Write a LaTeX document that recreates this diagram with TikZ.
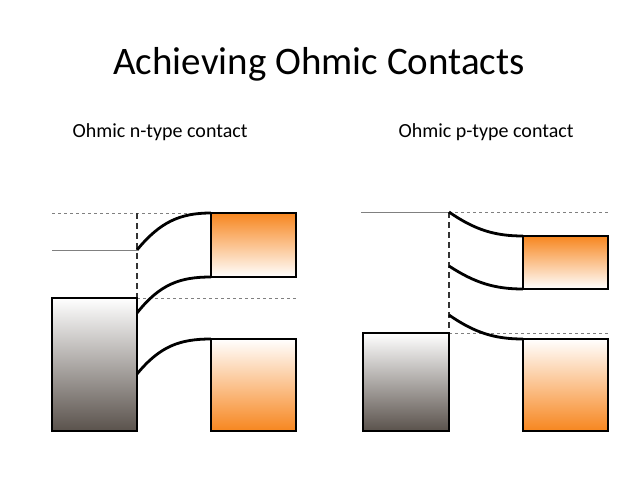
\documentclass[tikz,border=0pt]{standalone}
\usepackage{fontspec}
\setmainfont{Carlito}
\definecolor{org}{HTML}{F7861F}
\definecolor{dk}{HTML}{5A524C}
\begin{document}
\begin{tikzpicture}[x=1pt,y=-1pt,
  band/.style={draw=black,line width=2.8pt},
  orgdown/.style={band,top color=org,bottom color=white},
  orgup/.style={band,top color=white,bottom color=org},
  metal/.style={band,top color=white,bottom color=dk},
  curve/.style={line width=2.8pt},
  ref/.style={gray,dashed,line width=0.8pt},
  vdash/.style={black!80,dash pattern=on 6pt off 4pt,line width=1.8pt},
  lvl/.style={gray,line width=1pt}]
\useasboundingbox (0,0) rectangle (638,479);
\node (title) at (319,64) {\fontsize{39}{44}\selectfont Achieving Ohmic Contacts};
\node[anchor=west] (ln) at (69,132) {\fontsize{20}{24}\selectfont Ohmic n-type contact};
\node[anchor=west] (rn) at (395,132) {\fontsize{20}{24}\selectfont Ohmic p-type contact};
% left
\coordinate (la) at (52,213); \coordinate (lb) at (297,213);
\draw[ref] (la) -- (lb);
\coordinate (lc) at (137,298); \coordinate (ld) at (297,298);
\draw[ref] (lc) -- (ld);
\coordinate (l1) at (137,213); \coordinate (l2) at (137,298);
\draw[vdash] (l1) -- (l2);
\coordinate (lg0) at (52,250); \coordinate (lg1) at (137,250);
\draw[lvl] (lg0) -- (lg1);
\path[orgdown] (211,213) rectangle (296,277);
\path[orgup] (211,339) rectangle (296,431);
\path[metal] (52,298) rectangle (137,431);
\draw[curve] (lg1) .. controls (160,222) and (180,213) .. (211,213);
\draw[curve] (137,313) .. controls (160,284) and (180,277) .. (211,277);
\draw[curve] (137,374) .. controls (160,346) and (180,339) .. (211,339);
% right
\coordinate (ra) at (361,212); \coordinate (rb) at (449,212); \coordinate (rc) at (610,212);
\draw[lvl] (ra) -- (rb);
\draw[ref] (rb) -- (rc);
\coordinate (rd) at (449,333); \coordinate (re) at (610,333);
\draw[ref] (rd) -- (re);
\draw[vdash] (rb) -- (rd);
\path[orgdown] (523,236) rectangle (608,289);
\path[orgup] (523,339) rectangle (608,431);
\path[metal] (363,333) rectangle (449,431);
\draw[curve] (rb) .. controls (475,230) and (495,236) .. (523,236);
\draw[curve] (449,266) .. controls (475,283) and (495,289) .. (523,289);
\draw[curve] (449,315) .. controls (475,333) and (495,339) .. (523,339);
\end{tikzpicture}
\end{document}
